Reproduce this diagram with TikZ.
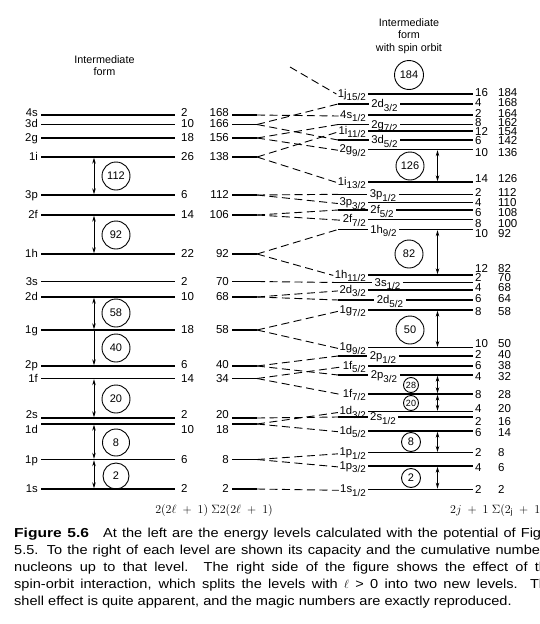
\documentclass[tikz,border=0pt]{standalone}
\usepackage{fontspec}
\setmainfont{Liberation Sans}
\newfontfamily\capfont[FakeStretch=1.12]{Liberation Sans}
\newfontfamily\figfont[FakeStretch=1.2]{Liberation Sans}
\usetikzlibrary{arrows.meta}
\newcommand\jsub[1]{\raisebox{-0.33em}{\fontsize{9.8}{10}\selectfont #1}}
% left level: name, label, y, capacity, cumulative, baseline offset
\newcommand\lvL[6]{%
  \coordinate (#1w) at (41,#3);
  \coordinate (#1e) at (175,#3);
  \coordinate (#1x) at (94,#3);
  \coordinate (#1s) at (232,#3);
  \coordinate (#1t) at (257,#3);
  \draw[lev] (#1w) -- (#1e);
  \draw[lev] (#1s) -- (#1t);
  \node[lab, anchor=base east] (#1l) at (38,#3+#6) {#2};
  \node[num, anchor=base west] (#1c) at (181,#3+#6) {#4};
  \node[num, anchor=base east] (#1n) at (229,#3+#6) {#5};
}
% right level, label at left: name, label, y, capacity, cumulative, number y
\newcommand\lvR[6]{%
  \coordinate (#1x) at (437.5,#3);
  \coordinate (#1a) at (368,#3);
  \coordinate (#1b) at (473,#3);
  \draw[lev] (#1a) -- (#1b);
  \node[lab, anchor=base east] (#1) at (366,#3+3) {#2};
  \node[num, anchor=base west] (#1c) at (475,#6+4) {#4};
  \node[num, anchor=base west] (#1n) at (498,#6+4) {#5};
}
% right level, label inside the line: ..., label centre x
\newcommand\lvM[7]{%
  \coordinate (#1x) at (437.5,#3);
  \coordinate (#1) at (338,#3);
  \coordinate (#1b) at (473,#3);
  \node[lab, anchor=base, inner xsep=2.5pt] (#1l) at (#7,#3+3.5) {#2};
  \draw[lev] (#1) -- (#1l.west |- #1);
  \draw[lev] (#1l.east |- #1) -- (#1b);
  \node[num, anchor=base west] (#1c) at (475,#6+4) {#4};
  \node[num, anchor=base west] (#1n) at (498,#6+4) {#5};
}
\begin{document}
\begin{tikzpicture}[x=1pt,y=-1pt,
  lev/.style={line width=1.5pt},
  con/.style={line width=0.9pt, dash pattern=on 8pt off 4.5pt},
  lab/.style={inner sep=0pt, font=\fontsize{11.3}{12}\selectfont},
  num/.style={inner sep=0pt, font=\fontsize{11.5}{12}\selectfont},
  title/.style={inner sep=0pt, align=center, font=\fontsize{10.8}{12.3}\selectfont},
  magic/.style={circle, draw, line width=0.9pt, inner sep=0pt, minimum size=28pt, font=\fontsize{11}{12}\selectfont},
  smagic/.style={magic, minimum size=15pt, font=\fontsize{9}{10}\selectfont},
  mmagic/.style={magic, minimum size=19pt},
  dar/.style={line width=0.8pt, shorten <=0.7pt, shorten >=0.7pt, {Stealth[length=6pt,width=3.5pt]}-{Stealth[length=6pt,width=3.5pt]}},
  sar/.style={line width=0.8pt, shorten >=0.7pt, -{Stealth[length=6pt,width=3.5pt]}},
  capl/.style={anchor=base west, inner sep=0pt, font=\capfont\fontsize{13}{17}\selectfont}
]
\useasboundingbox (0,0) rectangle (540,624);
\fill[white] (0,0) rectangle (540,624);

% titles
\node[title] (tl) at (104.5,65.5) {Intermediate\\form};
\node[title] (tr) at (409,36) {Intermediate\\form\\with spin orbit};

% left levels
\lvL{Ls4}{4s}{115}{2}{168}{1}
\lvL{Ld3}{3d}{124.5}{10}{166}{3}
\lvL{Lg2}{2g}{138}{18}{156}{3.5}
\lvL{Li}{1i}{157}{26}{138}{3.5}
\lvL{Lp3}{3p}{195}{6}{112}{3.5}
\lvL{Lf2}{2f}{215}{14}{106}{3.5}
\lvL{Lh}{1h}{254}{22}{92}{3.5}
\lvL{Ls3}{3s}{281.5}{2}{70}{3.5}
\lvL{Ld2}{2d}{297}{10}{68}{3.5}
\lvL{Lg}{1g}{330}{18}{58}{3.5}
\lvL{Lp2}{2p}{366}{6}{40}{2}
\lvL{Lf}{1f}{378.5}{14}{34}{4}
\lvL{Ls2}{2s}{418}{2}{20}{0}
\lvL{Ld}{1d}{424}{10}{18}{9}
\lvL{Lp}{1p}{459.5}{6}{8}{3.5}
\lvL{Ls}{1s}{489}{2}{2}{3.5}

% left magic numbers
\node[magic] (m112) at (116,176) {112};
\node[magic] (m92) at (116,235) {92};
\node[magic] (m58) at (116,313) {58};
\node[magic] (m40) at (116,348) {40};
\node[magic] (m20) at (116,399) {20};
\node[magic, minimum size=27pt] (m8) at (116,442.5) {8};
\node[magic, minimum size=26pt] (m2) at (116,476) {2};
\draw[dar] (Lix) -- (Lp3x);
\draw[dar] (Lf2x) -- (Lhx);
\draw[dar] (Ld2x) -- (Lgx);
\draw[sar] (Lgx) -- (Lp2x);
\draw[dar] (Lfx) -- (Ls2x);
\draw[dar] (Ldx) -- (Lpx);
\draw[dar] (Lpx) -- (Lsx);

% right levels
\lvR{R1j}{1j\jsub{15/2}}{94}{16}{184}{92}
\lvM{R3d3}{2d\jsub{3/2}}{104}{4}{168}{102.5}{384.5}
\lvR{R4s}{4s\jsub{1/2}}{115}{2}{164}{113.5}
\lvM{R2g7}{2g\jsub{7/2}}{124.5}{8}{162}{122.5}{384.5}
\lvR{R1i11}{1i\jsub{11/2}}{131}{12}{154}{131.5}
\lvM{R3d5}{3d\jsub{5/2}}{140}{6}{142}{140.5}{384.5}
\lvR{R2g9}{2g\jsub{9/2}}{149.5}{10}{136}{152}
\lvR{R1i13}{1i\jsub{13/2}}{182}{14}{126}{178}
\lvM{R3p1}{3p\jsub{1/2}}{194.3}{2}{112}{192}{383}
\lvR{R3p3}{3p\jsub{3/2}}{202.7}{4}{110}{202}
\lvM{R2f5}{2f\jsub{5/2}}{210}{6}{108}{212.5}{382}
\lvR{R2f7}{2f\jsub{7/2}}{219.5}{8}{100}{223}
\lvM{R1h9}{1h\jsub{9/2}}{229.5}{10}{92}{233}{383.5}
\lvR{R1h11}{1h\jsub{11/2}}{275}{12}{82}{268}
\lvM{R3s}{3s\jsub{1/2}}{282.5}{2}{70}{277.5}{387.5}
\lvR{R2d3}{2d\jsub{3/2}}{290}{4}{68}{287}
\lvM{R2d5}{2d\jsub{5/2}}{300}{6}{64}{298}{390}
\lvR{R1g7}{1g\jsub{7/2}}{310}{8}{58}{311.5}
\lvR{R1g9}{1g\jsub{9/2}}{347.7}{10}{50}{343.5}
\lvM{R2p1}{2p\jsub{1/2}}{356}{2}{40}{354}{383}
\lvR{R1f5}{1f\jsub{5/2}}{366}{6}{38}{365.5}
\lvM{R2p3}{2p\jsub{3/2}}{375}{4}{32}{376.5}{384}
\lvR{R1f7}{1f\jsub{7/2}}{394}{8}{28}{394}
\lvR{R1d3}{1d\jsub{3/2}}{411.5}{4}{20}{408.5}
\lvM{R2s}{2s\jsub{1/2}}{417}{2}{16}{421.7}{383}
\lvR{R1d5}{1d\jsub{5/2}}{431}{6}{14}{432.7}
\lvR{R1p1}{1p\jsub{1/2}}{452.7}{2}{8}{452.7}
\lvR{R1p3}{1p\jsub{3/2}}{466}{4}{6}{467.3}
\lvR{R1s}{1s\jsub{1/2}}{489.3}{2}{2}{489.3}

% right magic numbers
\node[magic, minimum size=29pt] (r184) at (409,75) {184};
\node[magic] (r126) at (410,166) {126};
\node[magic] (r82) at (409,254) {82};
\node[magic] (r50) at (410,330) {50};
\node[smagic] (r28) at (411,385) {28};
\node[smagic] (r20) at (411,403) {20};
\node[mmagic] (r8) at (411,442) {8};
\node[mmagic] (r2) at (411,478) {2};
\draw[dar] (R2g9x) -- (R1i13x);
\draw[dar] (R1h9x) -- (R1h11x);
\draw[dar] (R1g7x) -- (R1g9x);
\draw[dar] (R2p3x) -- (R1f7x);
\draw[dar] (R1f7x) -- (R1d3x);
\draw[dar] (R1d5x) -- (R1p1x);
\draw[dar] (R1p3x) -- (R1sx);

% spin-orbit connectors
\coordinate (jfree) at (290,67);
\begin{scope}[con]
\draw[shorten >=1.5pt] (jfree) -- (R1j.west);
\draw[shorten >=1.5pt] (Ls4t) -- (R4s.west);
\draw (Ld3t) -- (R3d3);
\draw (Ld3t) -- (R3d5);
\draw (Lg2t) -- (R2g7);
\draw[shorten >=1.5pt] (Lg2t) -- (R2g9.west);
\draw[shorten >=1.5pt] (Lit) -- (R1i11.west);
\draw[shorten >=1.5pt] (Lit) -- (R1i13.west);
\draw (Lp3t) -- (R3p1);
\draw[shorten >=1.5pt] (Lp3t) -- (R3p3.west);
\draw (Lf2t) -- (R2f5);
\draw[shorten >=1.5pt] (Lf2t) -- (R2f7.west);
\draw (Lht) -- (R1h9);
\draw[shorten >=1.5pt] (Lht) -- (R1h11.west);
\draw (Ls3t) -- (R3s);
\draw[shorten >=1.5pt] (Ld2t) -- (R2d3.west);
\draw (Ld2t) -- (R2d5);
\draw[shorten >=1.5pt] (Lgt) -- (R1g7.west);
\draw[shorten >=1.5pt] (Lgt) -- (R1g9.west);
\draw (Lp2t) -- (R2p1);
\draw (Lp2t) -- (R2p3);
\draw[shorten >=1.5pt] (Lft) -- (R1f5.west);
\draw[shorten >=1.5pt] (Lft) -- (R1f7.west);
\draw (Ls2t) -- (R2s);
\draw[shorten >=1.5pt] (Ldt) -- (R1d3.west);
\draw[shorten >=1.5pt] (Ldt) -- (R1d5.west);
\draw[shorten >=1.5pt] (Lpt) -- (R1p1.west);
\draw[shorten >=1.5pt] (Lpt) -- (R1p3.west);
\draw[shorten >=1.5pt] (Lst) -- (R1s.west);
\end{scope}

% column formulas
\node[anchor=base, inner sep=0pt, font=\fontsize{12}{12}\selectfont] (fl) at (214,513) {$2(2\ell\ +\ 1)\ \Sigma 2(2\ell\ +\ 1)$};
\node[anchor=base west, inner sep=0pt, font=\fontsize{12}{12}\selectfont] (fr) at (450,513) {$2j\ +\ 1\ \Sigma(2_{\mathrm{j}}\ +\ 1)$};

% caption
\node[capl] (c1) at (14,537) {\makebox[548pt][s]{{\figfont\bfseries Figure 5.6}\hspace{14pt}At the left are the energy levels calculated with the potential of Figure}};
\node[capl] (c2) at (14,554) {\makebox[548pt][s]{5.5. To the right of each level are shown its capacity and the cumulative number of}};
\node[capl] (c3) at (14,571) {\makebox[541pt][s]{nucleons up to that level. The right side of the figure shows the effect of the}};
\node[capl] (c4) at (14,588) {\makebox[541pt][s]{spin-orbit interaction, which splits the levels with $\ell$ > 0 into two new levels. The}};
\node[capl] (c5) at (14,605) {shell effect is quite apparent, and the magic numbers are exactly reproduced.};
\end{tikzpicture}
\end{document}
